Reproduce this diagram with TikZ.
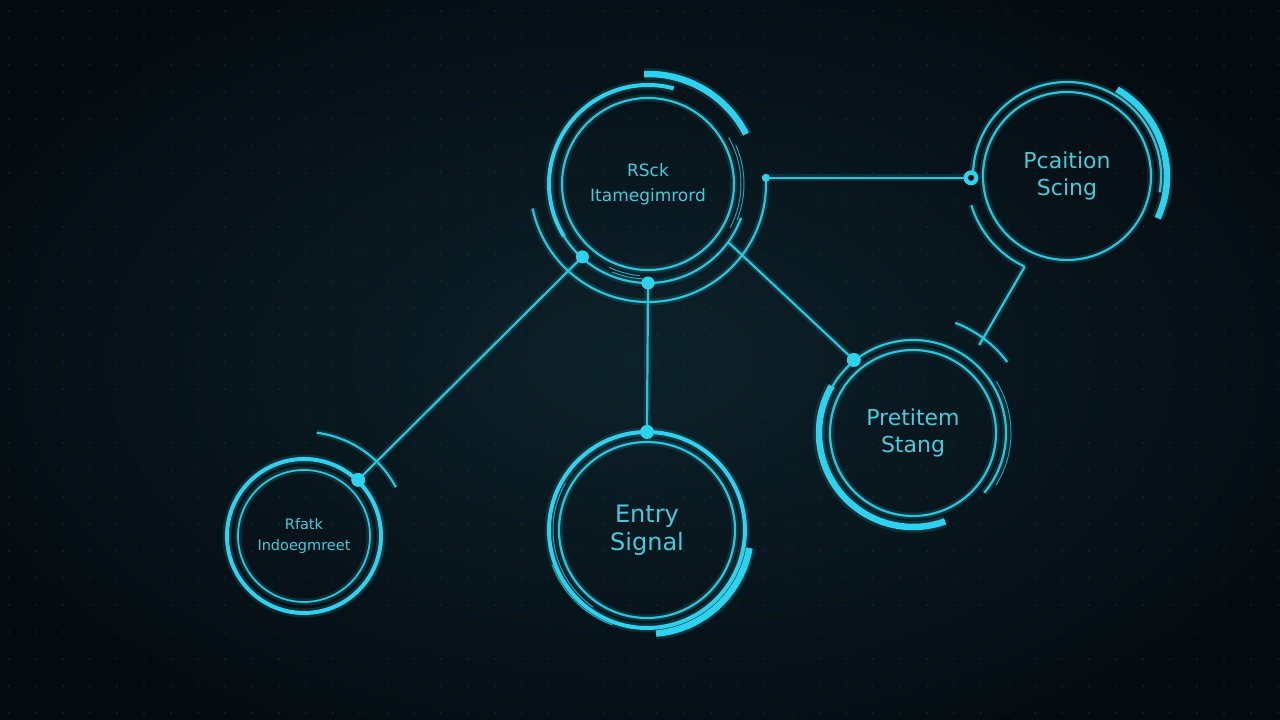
\documentclass[tikz,border=0pt]{standalone}
\usepackage{fontspec}
\setmainfont{DejaVu Sans}
\usetikzlibrary{calc}
\definecolor{bgA}{HTML}{0D212A}
\definecolor{bgB}{HTML}{040B10}
\definecolor{cy}{HTML}{27C6DC}
\definecolor{cyb}{HTML}{2CD2EE}
\definecolor{txt}{HTML}{45CBDB}
\definecolor{gd}{HTML}{23444F}
\tikzset{
  hair/.style={draw=cy, line width=1pt, opacity=0.8},
  thinline/.style={draw=cy, line width=2.2pt, preaction={draw=cy, opacity=0.15, line width=7pt}},
  midline/.style={draw=cyb, line width=4pt, preaction={draw=cy, opacity=0.15, line width=9pt}},
  thickarc/.style={draw=cyb, line width=6.5pt, preaction={draw=cy, opacity=0.15, line width=12pt}},
  conn/.style={draw=cy, line width=2.2pt, preaction={draw=cy, opacity=0.15, line width=7pt}},
  ring/.style={circle, inner sep=0pt, draw=cy, line width=2.2pt, text=txt, align=center,
    preaction={draw=cy, opacity=0.15, line width=7pt}},
  dotf/.style={fill=cyb},
}
\begin{document}
\begin{tikzpicture}[x=1pt,y=1pt]
\useasboundingbox (0,0) rectangle (1280,720);
\fill[bgB] (0,0) rectangle (1280,720);
\shade[inner color=bgA, outer color=bgB] (-100,-80) rectangle (1380,800);
\foreach \i in {0,...,47}{
  \foreach \j in {0,...,26}{
    \fill[gd, opacity=0.55] (\i*27+9, \j*27+7) circle (0.9);
  }
}
% main nodes
\node[ring, minimum size=172pt, font=\fontsize{17}{25}\selectfont] (rm) at (648,536) {RSck\\Itamegimrord};
\node[ring, minimum size=168pt, font=\fontsize{22}{27}\selectfont] (ps) at (1067,544) {Pcaition\\Scing};
\node[ring, minimum size=166pt, font=\fontsize{22}{27}\selectfont] (ps2) at (913,287) {Pretitem\\Stang};
\node[ring, minimum size=132pt, line width=1.8pt, font=\fontsize{14.5}{21}\selectfont] (rm2) at (304,184) {Rfatk\\Indoegmreet};
\node[ring, minimum size=176pt, font=\fontsize{24}{28}\selectfont] (es) at (647,190) {Entry\\Signal};

% decorations: Risk Management (top)
\draw[midline] ($(rm)+(75:99)$) arc[start angle=75,end angle=212,radius=99];
\draw[thinline] ($(rm)+(212:99)$) arc[start angle=212,end angle=340,radius=99];
\draw[thickarc] ($(rm)+(27:110)$) arc[start angle=27,end angle=92,radius=110];
\draw[thinline] ($(rm)+(-168:118)$) arc[start angle=-168,end angle=4,radius=118];
\draw[hair] ($(rm)+(-28:93)$) arc[start angle=-28,end angle=30,radius=93];
\draw[hair] ($(rm)+(-22:96)$) arc[start angle=-22,end angle=24,radius=96];
\draw[hair] ($(rm)+(245:92)$) arc[start angle=245,end angle=265,radius=92];
\draw[hair] ($(rm)+(248:95)$) arc[start angle=248,end angle=268,radius=95];

% Position Sizing (top right)
\draw[thinline] ($(ps)+(-10:94)$) arc[start angle=-10,end angle=180,radius=94];
\draw[thickarc] ($(ps)+(-25:100)$) arc[start angle=-25,end angle=60,radius=100];
\draw[thinline] ($(ps)+(197:100)$) arc[start angle=197,end angle=245,radius=100];

% Position Sizing (lower right)
\draw[thinline] ($(ps2)+(-40:93)$) arc[start angle=-40,end angle=150,radius=93];
\draw[thickarc] ($(ps2)+(150:94)$) arc[start angle=150,end angle=290,radius=94];
\draw[hair] ($(ps2)+(-32:98)$) arc[start angle=-32,end angle=32,radius=98];
\draw[thinline] ($(ps2)+(37:118)$) arc[start angle=37,end angle=69,radius=118];

% Risk Management (bottom left)
\draw[midline] (rm2) circle[radius=77];
\draw[thinline] ($(rm2)+(28:104)$) arc[start angle=28,end angle=83,radius=104];

% Entry Signal
\draw[midline] (es) circle[radius=98];
\draw[thickarc] ($(es)+(-85:104)$) arc[start angle=-85,end angle=-10,radius=104];
\draw[hair] ($(es)+(150:94)$) arc[start angle=150,end angle=235,radius=94];
\draw[hair] ($(es)+(200:101)$) arc[start angle=200,end angle=250,radius=101];

% connector end points
\coordinate (rmE) at ($(rm)+(3:118)$);
\coordinate (rmS) at ($(rm)+(270:99)$);
\coordinate (rmSW) at ($(rm)+(228:98)$);
\coordinate (rmSE) at ($(rm)+(-36:100)$);
\coordinate (psW) at ($(ps)+(180:96)$);
\coordinate (psSW) at ($(ps)+(245:100)$);
\coordinate (ps2NW) at ($(ps2)+(129:94)$);
\coordinate (ps2NE) at ($(ps2)+(53:110)$);
\coordinate (rm2NE) at ($(rm2)+(46:78)$);
\coordinate (esN) at ($(es)+(90:98)$);

% connectors
\draw[conn] (rmE) -- (rmE -| psW);
\draw[conn] (rmS) -- (esN);
\draw[conn] (rmSW) -- (rm2NE);
\draw[conn] (rmSE) -- (ps2NW);
\draw[conn] (psSW) -- (ps2NE);

% dots
\fill[dotf] (rmE) circle (4);
\fill[dotf] (rmS) circle (6.5);
\fill[dotf] (rmSW) circle (6.5);
\fill[dotf] (ps2NW) circle (7);
\fill[dotf] (rm2NE) circle (7);
\fill[dotf] (esN) circle (7);
\fill[cyb] (rmE -| psW) circle (7.5);
\fill[bgB] (rmE -| psW) circle (3);
\end{tikzpicture}
\end{document}
